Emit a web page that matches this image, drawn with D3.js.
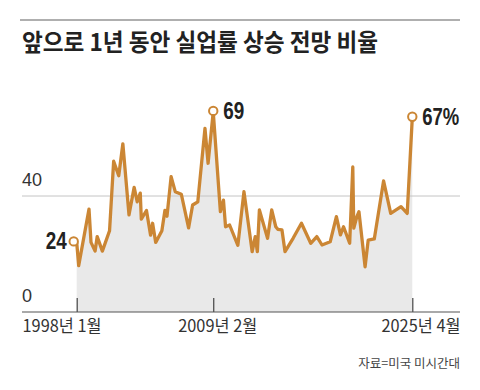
<!DOCTYPE html>
<html><head><meta charset="utf-8">
<script src="https://cdn.jsdelivr.net/npm/d3@7"></script>
<style>
html,body{margin:0;padding:0;background:#fff;}
svg{display:block;}
</style></head>
<body>
<svg id="c" width="480" height="390"></svg>
<script>
const title = "앞으로 1년 동안 실업률 상승 전망 비율";
const source = "자료=미국 미시간대";
const dates = ["1998-01","1998-03","1999-01","1999-03","1999-07","1999-09","2000-02","2000-09","2001-01","2001-06",
"2001-10","2002-04","2002-09","2002-12","2003-03","2003-04","2003-09","2004-01","2004-03","2004-06",
"2004-12","2005-03","2005-05","2005-09","2006-01","2006-07","2007-02","2007-06","2007-11","2008-06",
"2008-09","2009-02","2009-09","2009-12","2010-02","2010-06","2011-02","2011-08","2012-01","2012-04",
"2012-07","2012-09","2012-11","2013-07","2013-11","2014-03","2014-05","2014-09","2014-12","2015-08",
"2016-04","2017-01","2017-07","2017-12","2018-08","2019-02","2019-06","2019-09","2020-03","2020-06",
"2020-07","2020-10","2020-12","2021-06","2021-09","2022-03","2022-12","2023-07","2024-05","2024-11","2025-04"];
const values = [24,16,35.5,24,21,26,21,28,52,47,
58,33.5,43,38,41,32,35,26.5,30.6,24,
28,35,33,46.7,41.5,40.6,29,36.9,38,63.3,
51.3,69,34.6,38.6,29.4,30,23,41.5,28.5,20.8,
26,20.8,35.2,25.4,35.2,29.4,28.5,28.3,20.8,25.5,
30.6,23.7,26,23.1,24.2,32.9,26.6,29.4,23.7,50,
28.9,32.9,34.6,15.6,24.8,25.2,45.2,34,36.3,34,67];
const xTickDates = ["1998-01","2009-02","2025-04"];
const xTickLabels = ["1998년 1월","2009년 2월","2025년 4월"];
const yTicks = [0,40];
const callouts = [{date:"1998-01",text:"24",side:"left"},{date:"2009-02",text:"69",side:"right"},{date:"2025-04",text:"67%",side:"right"}];

const parse = d3.timeParse("%Y-%m");
const data = dates.map((d,i)=>({date:parse(d), value:values[i]}));

const svg = d3.select("#c");
const L = 22, R = 460;
const x = d3.scaleTime().domain([parse("1998-01"), parse("2025-04")]).range([76.7, 412.3]);
const y = d3.scaleLinear().domain([0,40]).range([312,196]);

// top rule
svg.append("line").attr("x1",20).attr("x2",R).attr("y1",20).attr("y2",20)
  .attr("stroke","#959595").attr("stroke-width",1.6);
// title
svg.append("text").attr("x",22).attr("y",51).text(title)
  .attr("font-family","'Noto Sans CJK KR', sans-serif").attr("font-weight",700)
  .attr("font-size",24).attr("fill","#222").attr("textLength",356).attr("lengthAdjust","spacingAndGlyphs");

// area
const area = d3.area().x(d=>x(d.date)).y0(y(0)).y1(d=>y(d.value)).curve(d3.curveLinear);
svg.append("path").datum(data).attr("d",area).attr("fill","#e9e9e9");

// gridlines and y labels
const yg = svg.append("g");
yTicks.forEach(t=>{
  if(t!==0){
    yg.append("line").attr("x1",L).attr("x2",R).attr("y1",y(t)).attr("y2",y(t))
      .attr("stroke","#c4c4c4").attr("stroke-width",1);
  }
  yg.append("text").attr("x",L).attr("y",y(t)-10).text(t)
    .attr("font-family","'Liberation Sans Narrow','Liberation Sans',sans-serif")
    .attr("font-size",18).attr("fill","#333");
});

// x axis
const xAxis = d3.axisBottom(x).tickValues(xTickDates.map(parse))
  .tickSize(-14).tickPadding(8).tickFormat((d,i)=>xTickLabels[i]);
const gx = svg.append("g").attr("transform",`translate(0,${y(0)})`).call(xAxis);
gx.select(".domain").remove();
gx.selectAll(".tick line").attr("stroke","#444").attr("stroke-width",1.2);
gx.selectAll(".tick text")
  .attr("font-family","'Liberation Sans Narrow','Noto Sans CJK KR',sans-serif")
  .attr("font-size",17).attr("fill","#333")
  .attr("lengthAdjust","spacingAndGlyphs").attr("textLength",79)
  .each(function(d,i){
    const t = d3.select(this);
    if(i===0){ t.attr("text-anchor","start").attr("x", L - x(d)); }
    else if(i===xTickDates.length-1){ t.attr("text-anchor","end").attr("x", R - x(d)); }
    else { t.attr("x",4); }
  });
svg.append("line").attr("x1",L).attr("x2",R).attr("y1",y(0)).attr("y2",y(0))
  .attr("stroke","#555").attr("stroke-width",1.2);

// line
const line = d3.line().x(d=>x(d.date)).y(d=>y(d.value));
svg.append("path").datum(data).attr("d",line).attr("fill","none")
  .attr("stroke","#cb8634").attr("stroke-width",3.3).attr("stroke-linejoin","round");

// callouts
callouts.forEach(c=>{
  const d = data.find(p=>+p.date===+parse(c.date));
  const cx = x(d.date), cy = y(d.value);
  svg.append("circle").attr("cx", c.side==="left"? cx-3: cx).attr("cy",cy-1).attr("r",4.2)
    .attr("fill","#fff").attr("stroke","#cb8634").attr("stroke-width",2);
  const t = svg.append("text").text(c.text)
    .attr("font-family","'Liberation Sans Narrow','Liberation Sans',sans-serif")
    .attr("font-weight",700).attr("font-size",23).attr("fill","#222")
    .attr("y", cy + 7)
    .attr("lengthAdjust","spacingAndGlyphs").attr("textLength", c.text.length===3 ? 37 : 21);
  if(c.side==="left"){ t.attr("x", cx-10).attr("text-anchor","end"); }
  else { t.attr("x", cx+10).attr("text-anchor","start"); }
});

// source
svg.append("text").attr("x",R).attr("y",368).attr("text-anchor","end").text(source)
  .attr("font-family","'Noto Sans CJK KR',sans-serif").attr("font-size",12.5).attr("fill","#444");
</script>
</body></html>
